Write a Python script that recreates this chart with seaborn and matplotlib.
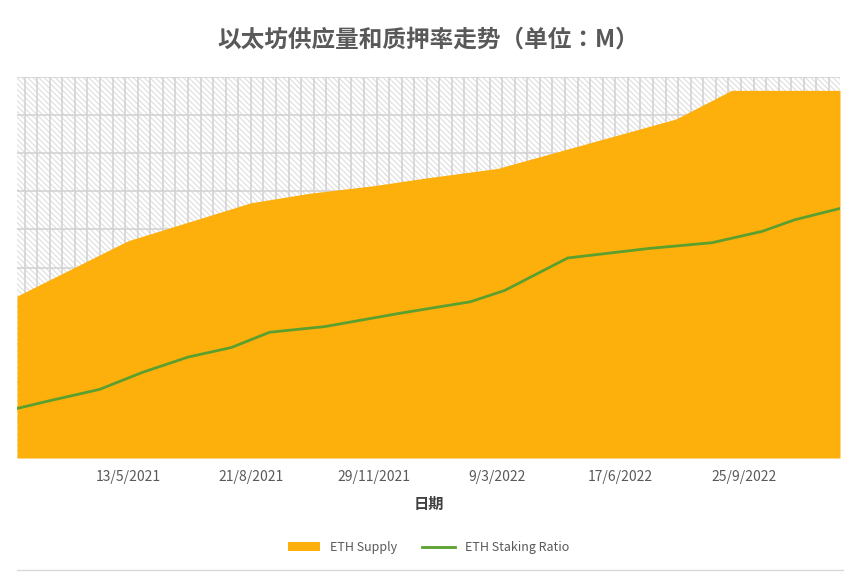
import matplotlib
matplotlib.use("Agg")
import matplotlib.pyplot as plt
from matplotlib.ticker import MultipleLocator
from matplotlib.patches import Rectangle
import seaborn as sns
import pandas as pd

supply_dates = ["2021-02-12","2021-05-13","2021-08-21","2021-10-08","2021-11-29","2022-01-10",
                "2022-03-09","2022-05-15","2022-08-01","2022-09-15","2022-12-12"]
supply_vals = [42.5,57,67,69.5,71.5,73.5,76,82,89,96.5,96.5]

stake_dates = ["2021-02-12","2021-03-10","2021-04-20","2021-05-25","2021-07-01","2021-08-05",
               "2021-09-05","2021-10-20","2021-12-20","2022-02-15","2022-03-15","2022-05-05",
               "2022-07-10","2022-08-30","2022-10-10","2022-11-05","2022-12-12"]
stake_vals = [13,15,18,22.5,26.5,29,33,34.5,38,41,44,52.5,55,56.5,59.5,62.5,65.5]

tick_labels = ["2/2/2021","13/5/2021","21/8/2021","29/11/2021","9/3/2022","17/6/2022","25/9/2022","3/1/2023"]
tick_dates = pd.date_range("2021-02-02", periods=8, freq="100D")

sd = pd.to_datetime(supply_dates)
kd = pd.to_datetime(stake_dates)

plt.rcParams["font.family"] = ["Noto Sans CJK SC", "Noto Sans CJK JP", "DejaVu Sans"]
plt.rcParams["hatch.linewidth"] = 0.8
fig = plt.figure(figsize=(8.56,5.76), dpi=100)
ax = fig.add_axes([17/856, 1-458/576, (840-17)/856, (458-77)/576])
ax.add_patch(Rectangle((0,0),1,1,transform=ax.transAxes,facecolor="white",
                       edgecolor="#dedede",hatch="\\\\\\\\\\\\",lw=0,zorder=0))
ax.set_facecolor("white")
ax.fill_between(sd, supply_vals, color="#FDB00C", lw=0, zorder=2, label="ETH Supply")
sns.lineplot(x=kd, y=stake_vals, ax=ax, color="#5BA02E", lw=2, zorder=3, label="ETH Staking Ratio")
ax.set_xticks(tick_dates)
ax.set_xticklabels(tick_labels, color="#595959", fontsize=10)
ax.set_xlim(sd[0], sd[-1])
ax.set_ylim(0, 100)
ax.xaxis.set_minor_locator(MultipleLocator(10.2))
ax.yaxis.set_major_locator(MultipleLocator(10))
ax.grid(which="minor", axis="x", color="#d3d3d3", lw=1.2, zorder=0.5)
ax.grid(which="major", axis="y", color="#d3d3d3", lw=1.2, zorder=0.5)
ax.grid(which="major", axis="x", visible=False)
ax.set_axisbelow(True)
ax.tick_params(axis="x", which="both", length=0, pad=9)
ax.tick_params(axis="y", length=0, labelleft=False)
for s in ax.spines.values():
    s.set_visible(False)
ax.set_xlabel("日期", fontsize=11, fontweight="bold", color="#404040", labelpad=8)
ax.set_ylabel("")
fig.text(0.5, 1-40/576, "以太坊供应量和质押率走势（单位：M）", fontsize=17, color="#595959",
         ha="center", va="center", fontweight="bold")
h, l = ax.get_legend_handles_labels()
ax.legend(h, l, loc="center", bbox_to_anchor=(0.5, -0.235), ncol=2, frameon=False,
          fontsize=9, labelcolor="#595959", handlelength=2.6)
fig.add_artist(plt.Line2D([0.02, 0.985], [1-570/576]*2, color="#d9d9d9", lw=1))
fig.savefig("out.png", dpi=100)
